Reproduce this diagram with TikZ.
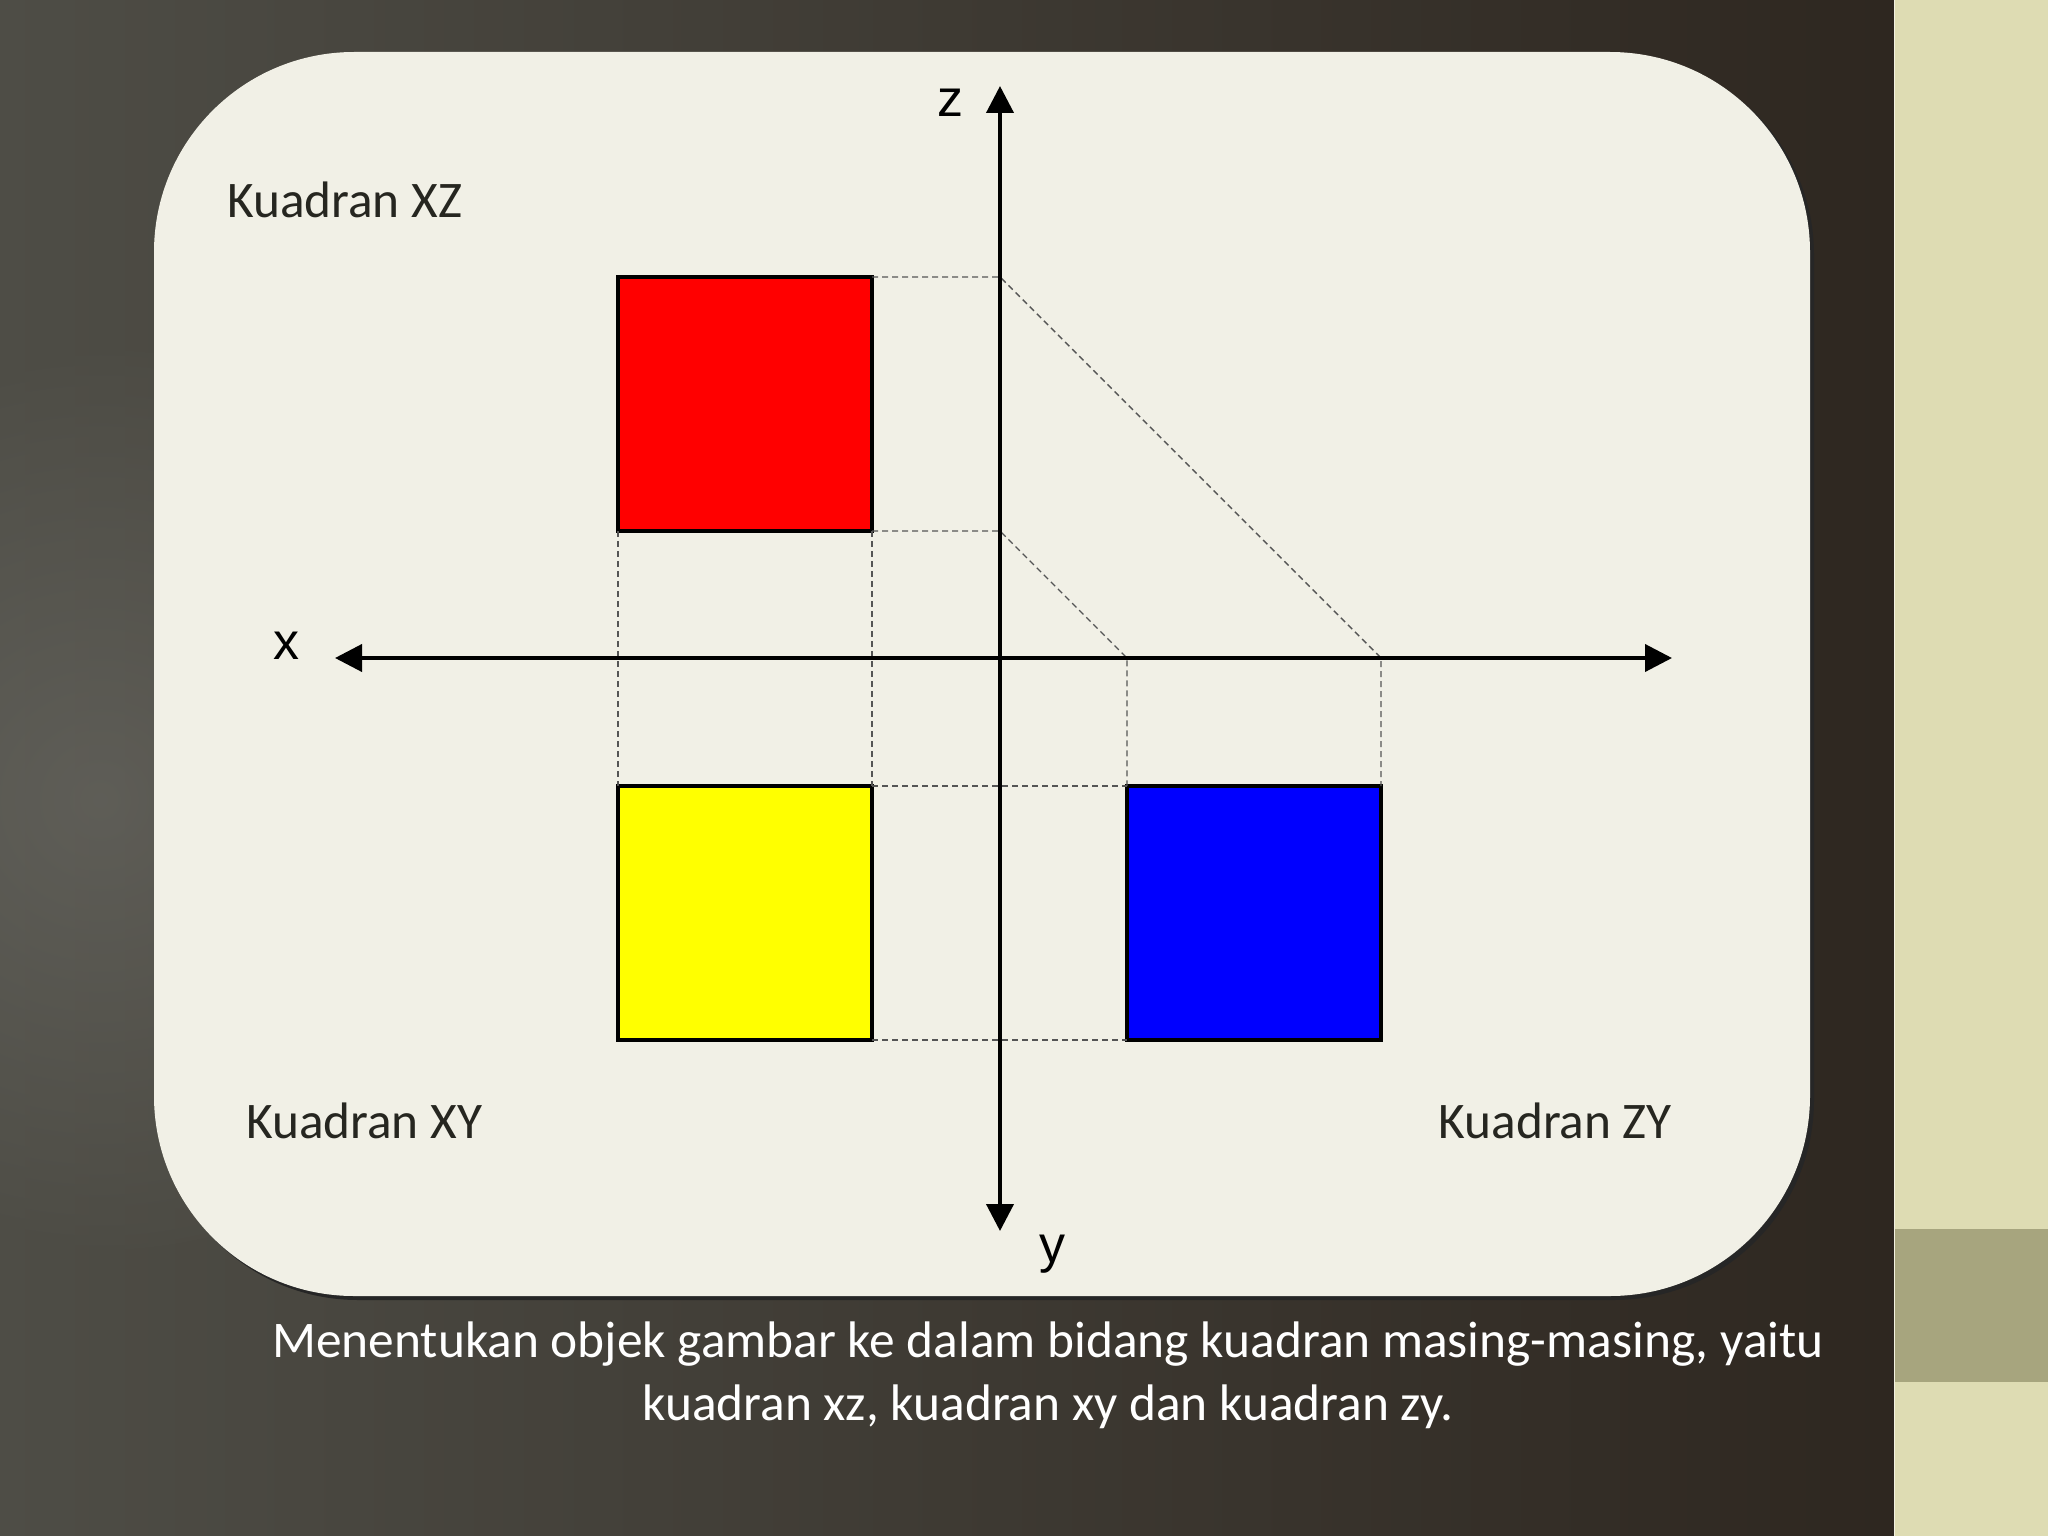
\documentclass[tikz,border=0pt]{standalone}
\usepackage{fontspec}
\setmainfont{Carlito}
\newfontfamily\axisfont{Liberation Sans}
\usetikzlibrary{arrows.meta}
\definecolor{bgL}{HTML}{4E4D46}
\definecolor{bgR}{HTML}{2E2720}
\definecolor{panel}{HTML}{F1F0E6}
\definecolor{stripA}{HTML}{DEDCB3}
\definecolor{stripB}{HTML}{A7A57E}
\definecolor{dashgray}{HTML}{555555}
\definecolor{txt}{HTML}{262620}
\definecolor{sqred}{HTML}{FF0000}
\definecolor{sqyellow}{HTML}{FFFF00}
\definecolor{sqblue}{HTML}{0000FF}
\begin{document}
\begin{tikzpicture}[x=1pt,y=-1pt,
  axis/.style={line width=4pt,-{Triangle[length=27pt,width=27pt]}},
  sq/.style={draw=black,line width=3.5pt,minimum width=254pt,minimum height=254pt,inner sep=0pt,outer sep=0pt,anchor=north west},
  guide/.style={draw=dashgray,line width=1.4pt,dash pattern=on 6pt off 4pt},
  quad/.style={font=\fontsize{51.3pt}{60pt}\selectfont,text=txt,inner sep=0pt},
  axlbl/.style={font=\axisfont\fontsize{52pt}{60pt}\selectfont,text=black,inner sep=0pt}]
\useasboundingbox (0,0) rectangle (2048,1536);
% background
\shade[left color=bgL,right color=bgR] (0,0) rectangle (1894,1536);
\shade[inner color=white!25!bgL,outer color=bgL,opacity=0.4] (100,800) circle (450);
\fill[stripA] (1894,0) rectangle (2048,1536);
\fill[stripB] (1894,1229) rectangle (2048,1382);
\draw[white!60!stripA,line width=1pt] (1894.5,0) -- (1894.5,1536);
% panel with shadow
\fill[black!85,rounded corners=200pt] (158,55) rectangle (1814,1300);
\fill[panel,rounded corners=200pt] (154,52) rectangle (1810,1296);
% squares
\node[sq,fill=sqred] (red) at (618,277) {};
\node[sq,fill=sqyellow] (yel) at (618,786) {};
\node[sq,fill=sqblue] (blu) at (1127,786) {};
% axes
\coordinate (o) at (1000,658);
\coordinate (ztop) at (1000,86);
\coordinate (ybot) at (1000,1231);
\coordinate (xl) at (335,658);
\coordinate (xr) at (1672,658);
% projection points
\coordinate (zA) at (1000,277);
\coordinate (zB) at (1000,531);
\coordinate (pA) at (1381,658);
\coordinate (pB) at (1127,658);
% guides
\draw[guide] (red.north east) -- (zA) -- (pA) -- (blu.north east);
\draw[guide] (red.south east) -- (zB) -- (pB) -- (blu.north west);
\draw[guide] (red.south west) -- (yel.north west);
\draw[guide] (red.south east) -- (yel.north east);
\draw[guide] (yel.north east) -- (blu.north west);
\draw[guide] (yel.south east) -- (blu.south west);
% axes drawn over guides
\draw[axis] (o) -- (ztop);
\draw[axis] (o) -- (ybot);
\draw[axis] (o) -- (xl);
\draw[axis] (o) -- (xr);
% axis labels
\node[axlbl] (lz) at (950,103) {z};
\node[axlbl] (lx) at (286,646) {x};
\node[axlbl] (ly) at (1052,1254) {y};
% quadrant labels
\node[quad,anchor=west] (qxz) at (227,200) {Kuadran XZ};
\node[quad,anchor=west] (qxy) at (246,1121) {Kuadran XY};
\node[quad,anchor=east] (qzy) at (1672,1121) {Kuadran ZY};
% caption
\node[font=\fontsize{51.4pt}{63pt}\selectfont,text=white,align=center,inner sep=0pt] (cap) at (1048,1375)
  {Menentukan objek gambar ke dalam bidang kuadran masing-masing, yaitu\\kuadran xz, kuadran xy dan kuadran zy.};
\end{tikzpicture}
\end{document}
